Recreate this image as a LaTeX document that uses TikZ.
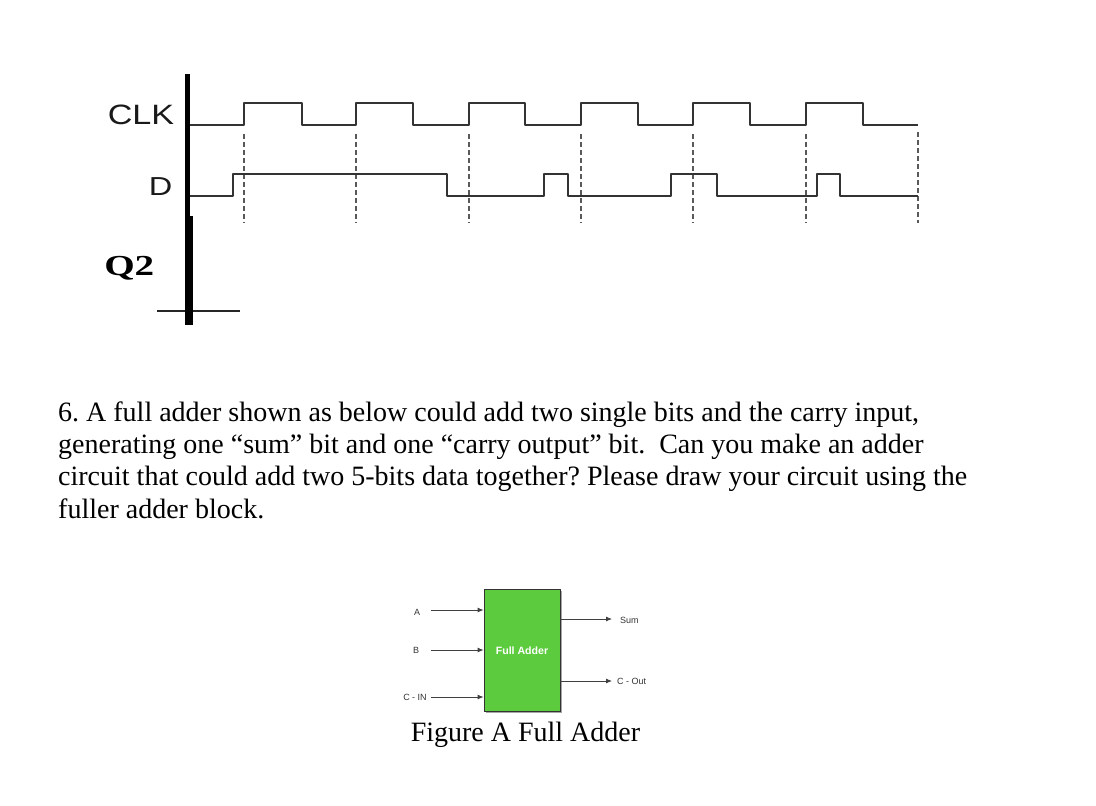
\documentclass[tikz,border=0pt]{standalone}
\usepackage{fontspec}
\setmainfont{Liberation Serif}
\newfontfamily\lsans{Liberation Sans}
\usetikzlibrary{arrows.meta}
\definecolor{addergreen}{HTML}{5CCB3E}
\frenchspacing
\tikzset{
  wave/.style={line width=2pt,draw=black!80,line join=round},
  tick/.style={line width=1.6pt,draw=black!65,dash pattern=on 4.5pt off 3.5pt},
  body/.style={anchor=base west,inner sep=0pt,font=\fontsize{28}{30}\selectfont},
  sig/.style={inner sep=0pt,font=\lsans\fontsize{9}{10}\selectfont,text=black!80},
  conn/.style={line width=0.8pt,draw=black!75,-{Latex[length=6pt,width=5pt]}},
  lab/.style={anchor=base east,inner sep=0pt,transform shape,text=black!90,font=\lsans\fontsize{28}{30}\selectfont},
}
\begin{document}
\begin{tikzpicture}[x=1pt,y=-1pt]
\useasboundingbox (0,0) rectangle (1096,806);
% guides
\foreach \x in {244,356,469,581,693,806}{\draw[tick] (\x,134) -- (\x,223);}
\draw[tick,line width=2pt] (918,132) -- (918,223);
% CLK
\draw[wave] (190,124.5) -- (244,124.5) -- (244,102.5) -- (302,102.5) -- (302,124.5)
  -- (356,124.5) -- (356,102.5) -- (413,102.5) -- (413,124.5)
  -- (469,124.5) -- (469,102.5) -- (525,102.5) -- (525,124.5)
  -- (581,124.5) -- (581,102.5) -- (638,102.5) -- (638,124.5)
  -- (693,124.5) -- (693,102.5) -- (750,102.5) -- (750,124.5)
  -- (806,124.5) -- (806,102.5) -- (863,102.5) -- (863,124.5) -- (918,124.5);
% D
\draw[wave] (190,196) -- (233,196) -- (233,173.5) -- (447,173.5) -- (447,196)
  -- (544,196) -- (544,173.5) -- (568,173.5) -- (568,196)
  -- (671,196) -- (671,173.5) -- (717,173.5) -- (717,196)
  -- (817,196) -- (817,173.5) -- (840,173.5) -- (840,196) -- (918,196);
% axis
\draw[line width=1.2pt,draw=black!85] (157,311) -- (240,311);
\draw[line width=5pt] (187.5,74) -- (187.5,216);
\draw[line width=8pt] (188.5,216) -- (188.5,325);
% signal labels
\node[lab,xscale=1.22] (clk) at (174.5,124) {CLK};
\node[lab,xscale=1.25,font=\lsans\fontsize{26}{28}\selectfont] (d) at (172.5,195) {D};
\node[lab,anchor=base west,xscale=1.35,font=\bfseries\fontsize{29}{31}\selectfont,text=black] (q2) at (104,275) {Q2};
% question
\node[body] (l1) at (58,421) {6. A full adder shown as below could add two single bits and the carry input,};
\node[body] (l2) at (58,453) {generating one “sum” bit and one “carry output” bit.\hspace{7pt} Can you make an adder};
\node[body] (l3) at (58,485) {circuit that could add two 5-bits data together? Please draw your circuit using the};
\node[body] (l4) at (58,518) {fuller adder block.};
% full adder
\fill[black!35] (486,591) rectangle (562,713);
\node[draw=black!80,line width=0.8pt,fill=addergreen,minimum width=76pt,minimum height=122pt,inner sep=0pt,
  text=white,font=\lsans\bfseries\fontsize{10.6}{12}\selectfont] (box) at (522,650.5) {Full Adder};
\node[sig] (a) at (417,612) {A};
\node[sig] (b) at (416,650) {B};
\node[sig] (cin) at (415,697) {C - IN};
\node[sig,anchor=west] (sum) at (620,620) {Sum};
\node[sig,anchor=west] (cout) at (617,681) {C - Out};
\coordinate (as) at (431,610);
\coordinate (bs) at (431,650);
\coordinate (cs) at (431,697);
\coordinate (se) at (612,619);
\coordinate (oe) at (612,681);
\draw[conn] (as) -- (as -| box.west);
\draw[conn] (bs) -- (bs -| box.west);
\draw[conn] (cs) -- (cs -| box.west);
\draw[conn] (se -| box.east) -- (se);
\draw[conn] (oe -| box.east) -- (oe);
\node[anchor=base,inner sep=0pt,font=\fontsize{28}{30}\selectfont] (cap) at (525.5,741) {Figure A Full Adder};
\end{tikzpicture}
\end{document}
